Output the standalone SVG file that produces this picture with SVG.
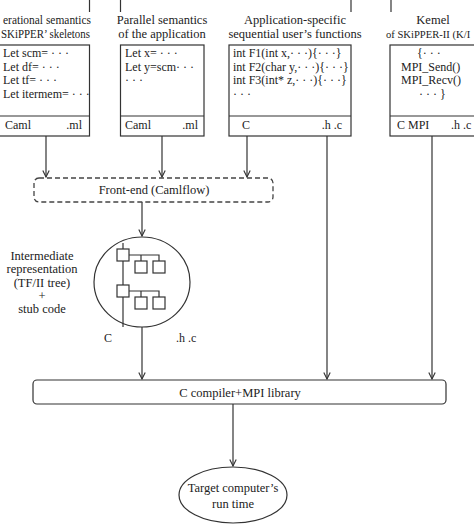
<svg xmlns="http://www.w3.org/2000/svg" width="474" height="524" viewBox="0 0 474 524">
<defs>
<style>
text{font-family:"Liberation Serif","Times New Roman",serif;font-size:12px;fill:#222}
.t{font-size:12.5px}
.box{fill:#fff;stroke:#333;stroke-width:1.2}
.ln{fill:none;stroke:#333;stroke-width:1.2}
.dash{fill:#fff;stroke:#444;stroke-width:1.3;stroke-dasharray:5 3}
.m{text-anchor:middle}
.e{text-anchor:end}
</style>
<marker id="arr" viewBox="0 0 10 10" refX="9" refY="5" markerWidth="8" markerHeight="8" markerUnits="userSpaceOnUse" orient="auto">
<polyline points="1,1 9,5 1,9" fill="none" stroke="#333" stroke-width="1.4"/>
</marker>
</defs>
<rect width="474" height="524" fill="#fff"/>

<g id="connectors">
<line class="ln" x1="89.5" y1="0" x2="89.5" y2="12"/>
<line class="ln" x1="120.5" y1="0" x2="120.5" y2="12"/>
<line class="ln" x1="351" y1="0" x2="351" y2="12"/>
<line class="ln" x1="391" y1="0" x2="391" y2="12"/>
<line class="ln" x1="46" y1="136" x2="46" y2="177" marker-end="url(#arr)"/>
<line class="ln" x1="162" y1="136" x2="162" y2="177" marker-end="url(#arr)"/>
<line class="ln" x1="247" y1="136" x2="247" y2="177" marker-end="url(#arr)"/>
<line class="ln" x1="327" y1="136" x2="327" y2="379" marker-end="url(#arr)"/>
<line class="ln" x1="432" y1="136" x2="432" y2="379" marker-end="url(#arr)"/>
<line class="ln" x1="142" y1="202" x2="142" y2="236" marker-end="url(#arr)"/>
<line class="ln" x1="142" y1="327" x2="142" y2="379" marker-end="url(#arr)"/>
<line class="ln" x1="233" y1="404" x2="233" y2="466" marker-end="url(#arr)"/>
</g>

<g id="skeletons">
<text class="t" x="3" y="24" textLength="88" lengthAdjust="spacingAndGlyphs">erational semantics</text>
<text class="t" x="1" y="38" textLength="89" lengthAdjust="spacingAndGlyphs">SKiPPER’ skeletons</text>
<rect class="box" x="-30" y="45" width="119.5" height="91"/>
<line class="ln" x1="-30" y1="116" x2="89.5" y2="116"/>
<text x="3" y="57">Let scm= · · ·</text>
<text x="3" y="71">Let df= · · ·</text>
<text x="3" y="84">Let tf= · · ·</text>
<text x="3" y="98">Let itermem= · · ·</text>
<text x="5" y="129">Caml</text>
<text class="e" x="82" y="129">.ml</text>
</g>

<g id="parallel">
<text class="t m" x="162" y="24">Parallel semantics</text>
<text class="t m" x="162" y="38">of the application</text>
<rect class="box" x="120.5" y="45" width="83.5" height="91"/>
<line class="ln" x1="120.5" y1="116" x2="204" y2="116"/>
<text x="125" y="57">Let x= · · ·</text>
<text x="125" y="71">Let y=scm· · ·</text>
<text x="125" y="84">· · ·</text>
<text x="125" y="129">Caml</text>
<text class="e" x="198" y="129">.ml</text>
</g>

<g id="functions">
<text class="t m" x="295" y="24">Application-specific</text>
<text class="t m" x="295" y="38">sequential user’s functions</text>
<rect class="box" x="229" y="45" width="122" height="91"/>
<line class="ln" x1="229" y1="116" x2="351" y2="116"/>
<text x="233" y="57">int F1(int x,· · ·){· · ·}</text>
<text x="233" y="71">int F2(char y,· · ·){· · ·}</text>
<text x="233" y="84">int F3(int* z,· · ·){· · ·}</text>
<text x="233" y="98">· · ·</text>
<text x="242" y="129">C</text>
<text class="e" x="342" y="129">.h .c</text>
</g>

<g id="kernel">
<text class="t m" x="433" y="24">Kemel</text>
<text x="386" y="38" style="font-size:10.6px">of SKiPPER-II (K/I</text>
<rect class="box" x="390" y="45" width="110" height="91"/>
<line class="ln" x1="390" y1="116" x2="500" y2="116"/>
<text x="417" y="57">{· · ·</text>
<text x="401" y="71">MPI_Send()</text>
<text x="401" y="84">MPI_Recv()</text>
<text x="419" y="98">· · · }</text>
<text x="397" y="129">C MPI</text>
<text x="451" y="129">.h .c</text>
</g>

<g id="frontend">
<rect class="dash" x="34" y="178" width="239" height="24" rx="5"/>
<text class="t m" x="154" y="194">Front-end (Camlflow)</text>
</g>

<g id="intermediate">
<text class="t m" x="42" y="260">Intermediate</text>
<text class="t m" x="42" y="273">representation</text>
<text class="t m" x="42" y="287">(TF/II tree)</text>
<text class="t m" x="42" y="300">+</text>
<text class="t m" x="42" y="313">stub code</text>
<ellipse class="box" cx="142" cy="282" rx="48" ry="45"/>
<line class="ln" x1="123" y1="243" x2="123" y2="327"/>
<rect class="box" x="117" y="249" width="12" height="12"/>
<polyline class="ln" points="129,255 159,255 159,261"/>
<line class="ln" x1="141" y1="255" x2="141" y2="261"/>
<rect class="box" x="135" y="261" width="12" height="12"/>
<rect class="box" x="153" y="261" width="12" height="12"/>
<rect class="box" x="117" y="285" width="12" height="12"/>
<polyline class="ln" points="129,291 159,291 159,297"/>
<line class="ln" x1="141" y1="291" x2="141" y2="297"/>
<rect class="box" x="135" y="297" width="12" height="12"/>
<rect class="box" x="153" y="297" width="12" height="12"/>
<text x="104" y="342">C</text>
<text x="176" y="342">.h .c</text>
</g>

<g id="compiler">
<rect class="box" x="33" y="380" width="413" height="24" rx="4"/>
<text class="t m" x="240" y="397">C compiler+MPI library</text>
</g>

<g id="target">
<ellipse class="box" cx="233" cy="495" rx="54" ry="28"/>
<text class="t m" x="233" y="492">Target computer’s</text>
<text class="t m" x="233" y="508">run time</text>
</g>
</svg>
